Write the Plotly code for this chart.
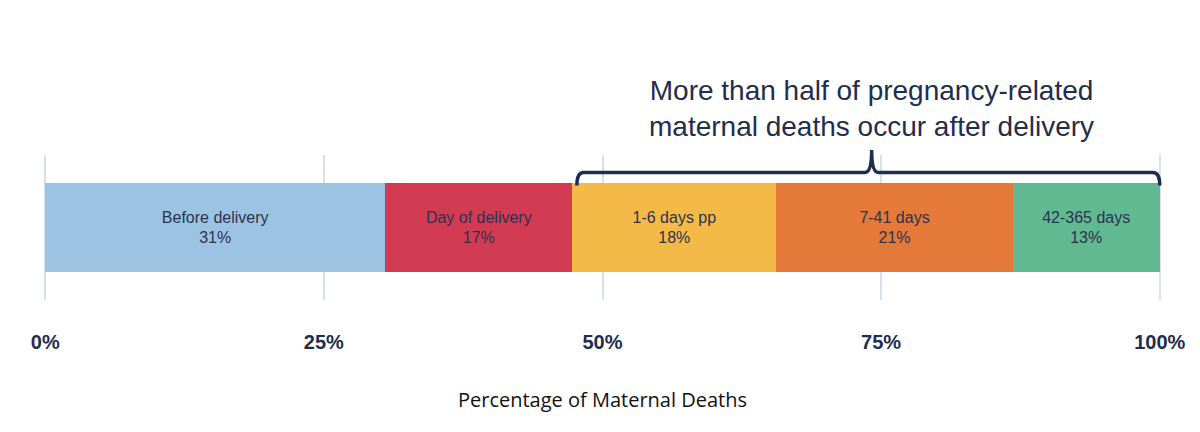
import plotly.graph_objects as go

categories = ["Before delivery", "Day of delivery", "1-6 days pp", "7-41 days", "42-365 days"]
values = [30.5, 16.8, 18.3, 21.2, 13.2]
value_labels = ["31%", "17%", "18%", "21%", "13%"]
colors = ["#9DC3E2", "#D33B52", "#F4BA48", "#E4793A", "#61B991"]
tick_vals = [0, 25, 50, 75, 100]
tick_text = ["0%", "25%", "50%", "75%", "100%"]
note = "More than half of pregnancy-related<br>maternal deaths occur after delivery"

navy = "#1F2D4E"
fig = go.Figure()
for cat, v, lab, c in zip(categories, values, value_labels, colors):
    fig.add_trace(go.Bar(
        y=[0], x=[v], orientation="h", marker=dict(color=c, line=dict(width=0)),
        text=[f"{cat}<br>{lab}"], textposition="inside", insidetextanchor="middle",
        textangle=0, insidetextfont=dict(family="Liberation Sans, Arial", size=16, color="#2B3350"),
        width=0.614, showlegend=False, hoverinfo="skip"))

# bracket over post-delivery segments
x0 = sum(values[:2]) + 0.4
x1 = sum(values)
xm = (x0 + x1) / 2 + 0.3
yb = 0.79   # paper coords: bar top ~0.807
yh = 0.88
yp = 1.035
dx = 0.6
path = (f"M {x0},{yb} Q {x0},{yh} {x0+dx},{yh} L {xm-dx},{yh} "
        f"Q {xm},{yh} {xm},{yp} Q {xm},{yh} {xm+dx},{yh} L {x1-dx},{yh} "
        f"Q {x1},{yh} {x1},{yb}")
fig.add_shape(type="path", path=path, xref="x", yref="paper",
              line=dict(color=navy, width=3.5), layer="above")

fig.add_annotation(x=xm, y=1.075, xref="x", yref="paper", text=note, showarrow=False,
                   xanchor="center", yanchor="bottom",
                   font=dict(family="Liberation Sans, Arial", size=28, color=navy), align="center")

fig.update_layout(
    barmode="stack", width=1200, height=432, plot_bgcolor="white", paper_bgcolor="white",
    margin=dict(l=43, r=38, t=155, b=132),
    xaxis=dict(range=[-0.2, 100.2], tickvals=tick_vals, ticktext=tick_text, showgrid=True,
               gridcolor="#D6E0EE", gridwidth=1.5, zeroline=True, zerolinecolor="#D6E0EE",
               zerolinewidth=1.5, showline=False,
               ticklabelstandoff=28,
               tickfont=dict(family="Liberation Sans Narrow, Arial Narrow, Liberation Sans", size=20, color=navy, weight="bold"),
               title=dict(text="Percentage of Maternal Deaths", standoff=40,
                          font=dict(family="Open Sans, Calibri", size=20, color="#111111"))),
    yaxis=dict(range=[-0.5, 0.5], showticklabels=False, showgrid=False, zeroline=False, fixedrange=True),
)
fig.write_html("out.html")
